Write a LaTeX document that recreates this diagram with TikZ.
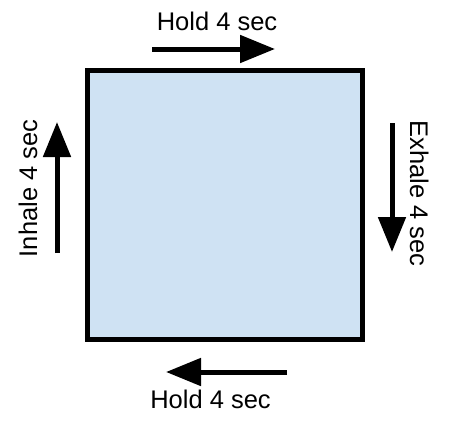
\documentclass[tikz,border=0pt]{standalone}
\usepackage{fontspec}
\setmainfont{Liberation Sans}
\usetikzlibrary{arrows.meta}
\definecolor{boxfill}{HTML}{CFE2F3}
\begin{document}
\begin{tikzpicture}[x=1pt,y=-1pt,
  lbl/.style={inner sep=0pt, font=\fontsize{25.5}{30}\selectfont},
  bigarrow/.style={line width=5pt, -{Triangle[length=35pt,width=27pt]}},
  box/.style={draw, line width=5pt, fill=boxfill, inner sep=0pt, minimum width=275.5pt, minimum height=269pt}]
\useasboundingbox (0,0) rectangle (452,434);
\node[box] (sq) at (224.75,204.5) {};
\node[lbl, anchor=base] (top) at (217,30) {Hold 4 sec};
\node[lbl, anchor=base] (bot) at (210.5,408) {Hold 4 sec};
\node[lbl, anchor=base, rotate=90] (left) at (37,188.5) {Inhale 4 sec};
\node[lbl, anchor=base, rotate=-90] (right) at (410,193.5) {Exhale 4 sec};
\coordinate (t1) at (152,49);
\coordinate (t2) at (275,49);
\coordinate (l1) at (57,253);
\coordinate (l2) at (57,122);
\coordinate (r1) at (392,123);
\coordinate (r2) at (392,252);
\coordinate (b1) at (287,372);
\coordinate (b2) at (166,372);
\draw[bigarrow] (t1) -- (t2);
\draw[bigarrow] (l1) -- (l2);
\draw[bigarrow] (r1) -- (r2);
\draw[bigarrow] (b1) -- (b2);
\end{tikzpicture}
\end{document}
